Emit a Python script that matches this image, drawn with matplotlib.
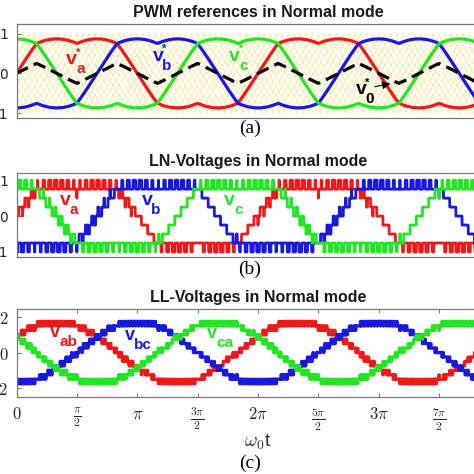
import numpy as np
import matplotlib
matplotlib.use("Agg")
import matplotlib.pyplot as plt

# ---- values ----
x_end = 4 * np.pi                      # time axis w0*t runs 0 .. 4pi (cut at right)
amp = 1.0                              # fundamental amplitude of the references
phases = [0.0, -2 * np.pi / 3, 2 * np.pi / 3]   # phase a, b, c
carrier_ratio = 40                     # carrier periods per fundamental cycle
levels = [-1, -0.75, -0.5, -0.25, 0, 0.25, 0.5, 0.75, 1]   # LN output levels

colors = ["#f01818", "#1818e0", "#22e622"]
carrier_color = "#f6df6a"

xticks = [0, np.pi / 2, np.pi, 3 * np.pi / 2, 2 * np.pi, 5 * np.pi / 2,
          3 * np.pi, 7 * np.pi / 2, 4 * np.pi]
xtick_labels = [r"$0$", r"$\frac{\pi}{2}$", r"$\pi$", r"$\frac{3\pi}{2}$",
                r"$2\pi$", r"$\frac{5\pi}{2}$", r"$3\pi$", r"$\frac{7\pi}{2}$",
                r"$4\pi$"]

# ---- simulation of the PWM (min-max injection + level shifted carriers) ----
t = np.linspace(0, x_end, 40001)
sines = [amp * np.sin(t + ph) for ph in phases]
v0 = -(np.maximum.reduce(sines) + np.minimum.reduce(sines)) / 2
refs = [s + v0 for s in sines]

step = levels[1] - levels[0]
tri = 2 * np.abs((t * carrier_ratio / (2 * np.pi)) % 1 - 0.5)   # 0..1 triangle
carriers = [lv + step * tri for lv in levels[:-1]]
ln = [levels[0] + step * sum((r > c).astype(float) for c in carriers) for r in refs]
ll = [ln[0] - ln[1], ln[1] - ln[2], ln[2] - ln[0]]

# ---- figure ----
W = H = 474
fig = plt.figure(figsize=(4.74, 4.74), dpi=100)
left = 16.5 / W
width = 483 / W


def make_axes(top_px, bot_px):
    return fig.add_axes([left, 1 - bot_px / H, width, (bot_px - top_px) / H])


frame_col = "#7a7a7a"


def style(ax):
    for sp in ax.spines.values():
        sp.set_color(frame_col)
        sp.set_linewidth(0.9)
    ax.set_xlim(0, x_end)
    ax.tick_params(direction="in", length=3, color=frame_col,
                   labelcolor="#262626", pad=6)


def vlabel(ax, x, y, sub, color, star=False, size=14, subsize=11):
    kw = dict(color=color, fontweight="bold", family="Liberation Sans")
    ax.text(x, y, "v", ha="center", va="center", fontsize=size, zorder=5, **kw)
    ax.annotate(sub, (x, y), xytext=(3, -7), textcoords="offset points",
                ha="left", va="center", fontsize=subsize, zorder=5, **kw)
    if star:
        ax.annotate("*", (x, y), xytext=(4.5, 5), textcoords="offset points",
                    ha="center", va="center", fontsize=8, zorder=5, **kw)


title_kw = dict(fontsize=11.5, fontweight="bold", family="Liberation Sans",
                color="#1a1a1a", pad=5)

# (a) PWM references
ax1 = make_axes(24, 118)
for c in carriers:
    ax1.plot(t, c, color=carrier_color, lw=0.4)
for r, col in zip(refs, colors):
    ax1.plot(t, r, color=col, lw=2.3)
ax1.plot(t, v0, color="black", lw=2.3, linestyle=(0, (4, 2)))
style(ax1)
ax1.set_ylim(-1.12, 1.24)
ax1.set_yticks([-1, 0, 1])
ax1.set_xticks([])
ax1.set_title("PWM references in Normal mode", **title_kw)
vlabel(ax1, 1.44, 0.35, "a", colors[0], star=True)
vlabel(ax1, 3.68, 0.43, "b", colors[1], star=True)
vlabel(ax1, 5.68, 0.43, "c", colors[2], star=True)
vlabel(ax1, 8.96, -0.40, "0", "black", star=True)
ax1.annotate("", xy=(9.8, -0.24), xytext=(9.25, -0.35),
             arrowprops=dict(arrowstyle="-|>", color="black", lw=0.8,
                             mutation_scale=12))

# (b) LN voltages
ax2 = make_axes(173, 257)
for v, col in zip(ln, colors):
    ax2.plot(t, v, color=col, lw=2.0)
style(ax2)
ax2.set_ylim(-1.14, 1.2)
ax2.set_yticks([-1, 0, 1])
ax2.set_xticks([])
ax2.set_title("LN-Voltages in Normal mode", **title_kw)
vlabel(ax2, 1.26, 0.44, "a", colors[0])
vlabel(ax2, 3.40, 0.44, "b", colors[1])
vlabel(ax2, 5.55, 0.44, "c", colors[2])

# (c) LL voltages
ax3 = make_axes(309, 397)
for v, col in zip(ll, colors):
    ax3.plot(t, v, color=col, lw=2.4)
style(ax3)
ax3.set_ylim(-2.5, 2.45)
ax3.set_yticks([-2, 0, 2])
ax3.set_yticklabels([r"$-2$", r"$0$", r"$2$"])
ax3.set_xticks(xticks)
ax3.set_xticklabels(xtick_labels)
ax3.tick_params(top=True, labelsize=12)
for lbl in ax3.get_xticklabels() + ax3.get_yticklabels():
    lbl.set_math_fontfamily("cm")
ax3.set_title("LL-Voltages in Normal mode", **title_kw)
xl = ax3.set_xlabel(r"$\omega_0$t", fontsize=14, color="#333333",
                    family="Liberation Sans", labelpad=0)
xl.set_math_fontfamily("cm")
vlabel(ax3, 1.0, 1.14, "ab", colors[0], size=13)
vlabel(ax3, 2.95, 0.97, "bc", colors[1], size=13)
vlabel(ax3, 5.08, 1.09, "ca", colors[2], size=13)

for lab, ypx in [("(a)", 128), ("(b)", 269), ("(c)", 463)]:
    fig.text(250 / W, 1 - ypx / H, lab, ha="center", va="center",
             fontsize=14, family="Liberation Serif")

fig.savefig("out.png", dpi=100)
